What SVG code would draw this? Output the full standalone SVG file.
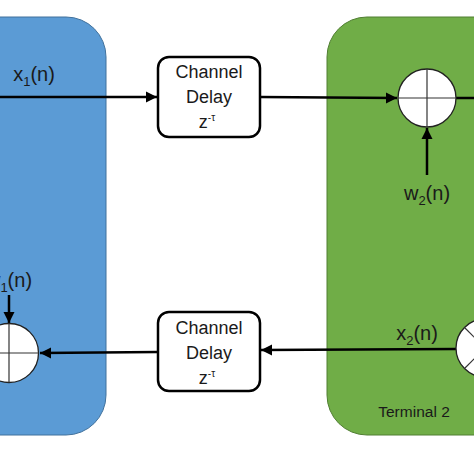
<svg xmlns="http://www.w3.org/2000/svg" width="474" height="474" viewBox="0 0 474 474">
<style>
text{font-family:"Liberation Sans",Arial,sans-serif;fill:#1a1a1a}
.lbl{font-size:20px;text-anchor:middle}
.box{fill:#fff;stroke:#000;stroke-width:2.5}
.sum{fill:#fff;stroke:#222;stroke-width:1.3}
.cross{stroke:#333;stroke-width:1.2}
.wire{stroke:#000;stroke-width:2.5;fill:none}
.ctext{font-size:18px;text-anchor:middle}
</style>
<defs>
<marker id="ah" viewBox="0 0 10 10" refX="10" refY="5" markerWidth="4.5" markerHeight="4.5" orient="auto" markerUnits="strokeWidth">
<path d="M0,0 L10,5 L0,10 z" fill="#000"/>
</marker>
</defs>
<rect width="474" height="474" fill="#fff"/>
<g id="terminal1">
<rect x="-60" y="17" width="166" height="418" rx="40" fill="#5b9bd5" stroke="#41719c" stroke-width="1"/>
</g>
<g id="terminal2">
<rect x="327" y="17" width="200" height="418" rx="40" fill="#70ad47" stroke="#507e32" stroke-width="1"/>
<text x="414" y="417" font-size="15.5" text-anchor="middle">Terminal 2</text>
</g>
<g id="connectors">
<line class="wire" x1="0" y1="97" x2="157" y2="97" marker-end="url(#ah)"/>
<line class="wire" x1="260" y1="97" x2="397" y2="98" marker-end="url(#ah)"/>
<line class="wire" x1="456" y1="98" x2="474" y2="98"/>
<line class="wire" x1="427" y1="175" x2="427" y2="128" marker-end="url(#ah)"/>
<line class="wire" x1="456" y1="349" x2="261" y2="350" marker-end="url(#ah)"/>
<line class="wire" x1="158" y1="352" x2="40" y2="353" marker-end="url(#ah)"/>
<line class="wire" x1="9" y1="295" x2="9" y2="323" marker-end="url(#ah)"/>
</g>
<g id="delay1">
<rect class="box" x="158" y="57" width="102" height="80" rx="11"/>
<text class="ctext" x="209" y="78">Channel</text>
<text class="ctext" x="209" y="103">Delay</text>
<text class="ctext" x="207" y="128" font-size="16">z<tspan font-size="10" dy="-7">-τ</tspan></text>
</g>
<g id="delay2">
<rect class="box" x="158" y="312" width="102" height="79" rx="11"/>
<text class="ctext" x="209" y="334">Channel</text>
<text class="ctext" x="209" y="359">Delay</text>
<text class="ctext" x="207" y="384" font-size="16">z<tspan font-size="10" dy="-7">-τ</tspan></text>
</g>
<g id="sum2">
<circle class="sum" cx="427" cy="98" r="29"/>
<line class="cross" x1="398" y1="98" x2="456" y2="98"/>
<line class="cross" x1="427" y1="69" x2="427" y2="127"/>
</g>
<g id="mult2">
<circle class="sum" cx="485" cy="348" r="29"/>
<line class="cross" x1="464.5" y1="327.5" x2="505.5" y2="368.5"/>
<line class="cross" x1="464.5" y1="368.5" x2="505.5" y2="327.5"/>
</g>
<g id="sum1">
<circle class="sum" cx="9" cy="353" r="29.5"/>
<line class="cross" x1="-20.5" y1="353" x2="38.5" y2="353"/>
<line class="cross" x1="9" y1="323.5" x2="9" y2="382.5"/>
</g>
<g id="labels">
<text class="lbl" x="34" y="81">x<tspan font-size="13" dy="5">1</tspan><tspan dy="-5">(n)</tspan></text>
<text class="lbl" x="427" y="200">w<tspan font-size="13" dy="5">2</tspan><tspan dy="-5">(n)</tspan></text>
<text class="lbl" x="417" y="340">x<tspan font-size="13" dy="5">2</tspan><tspan dy="-5">(n)</tspan></text>
<text class="lbl" x="9" y="287">w<tspan font-size="13" dy="5">1</tspan><tspan dy="-5">(n)</tspan></text>
</g>
</svg>
